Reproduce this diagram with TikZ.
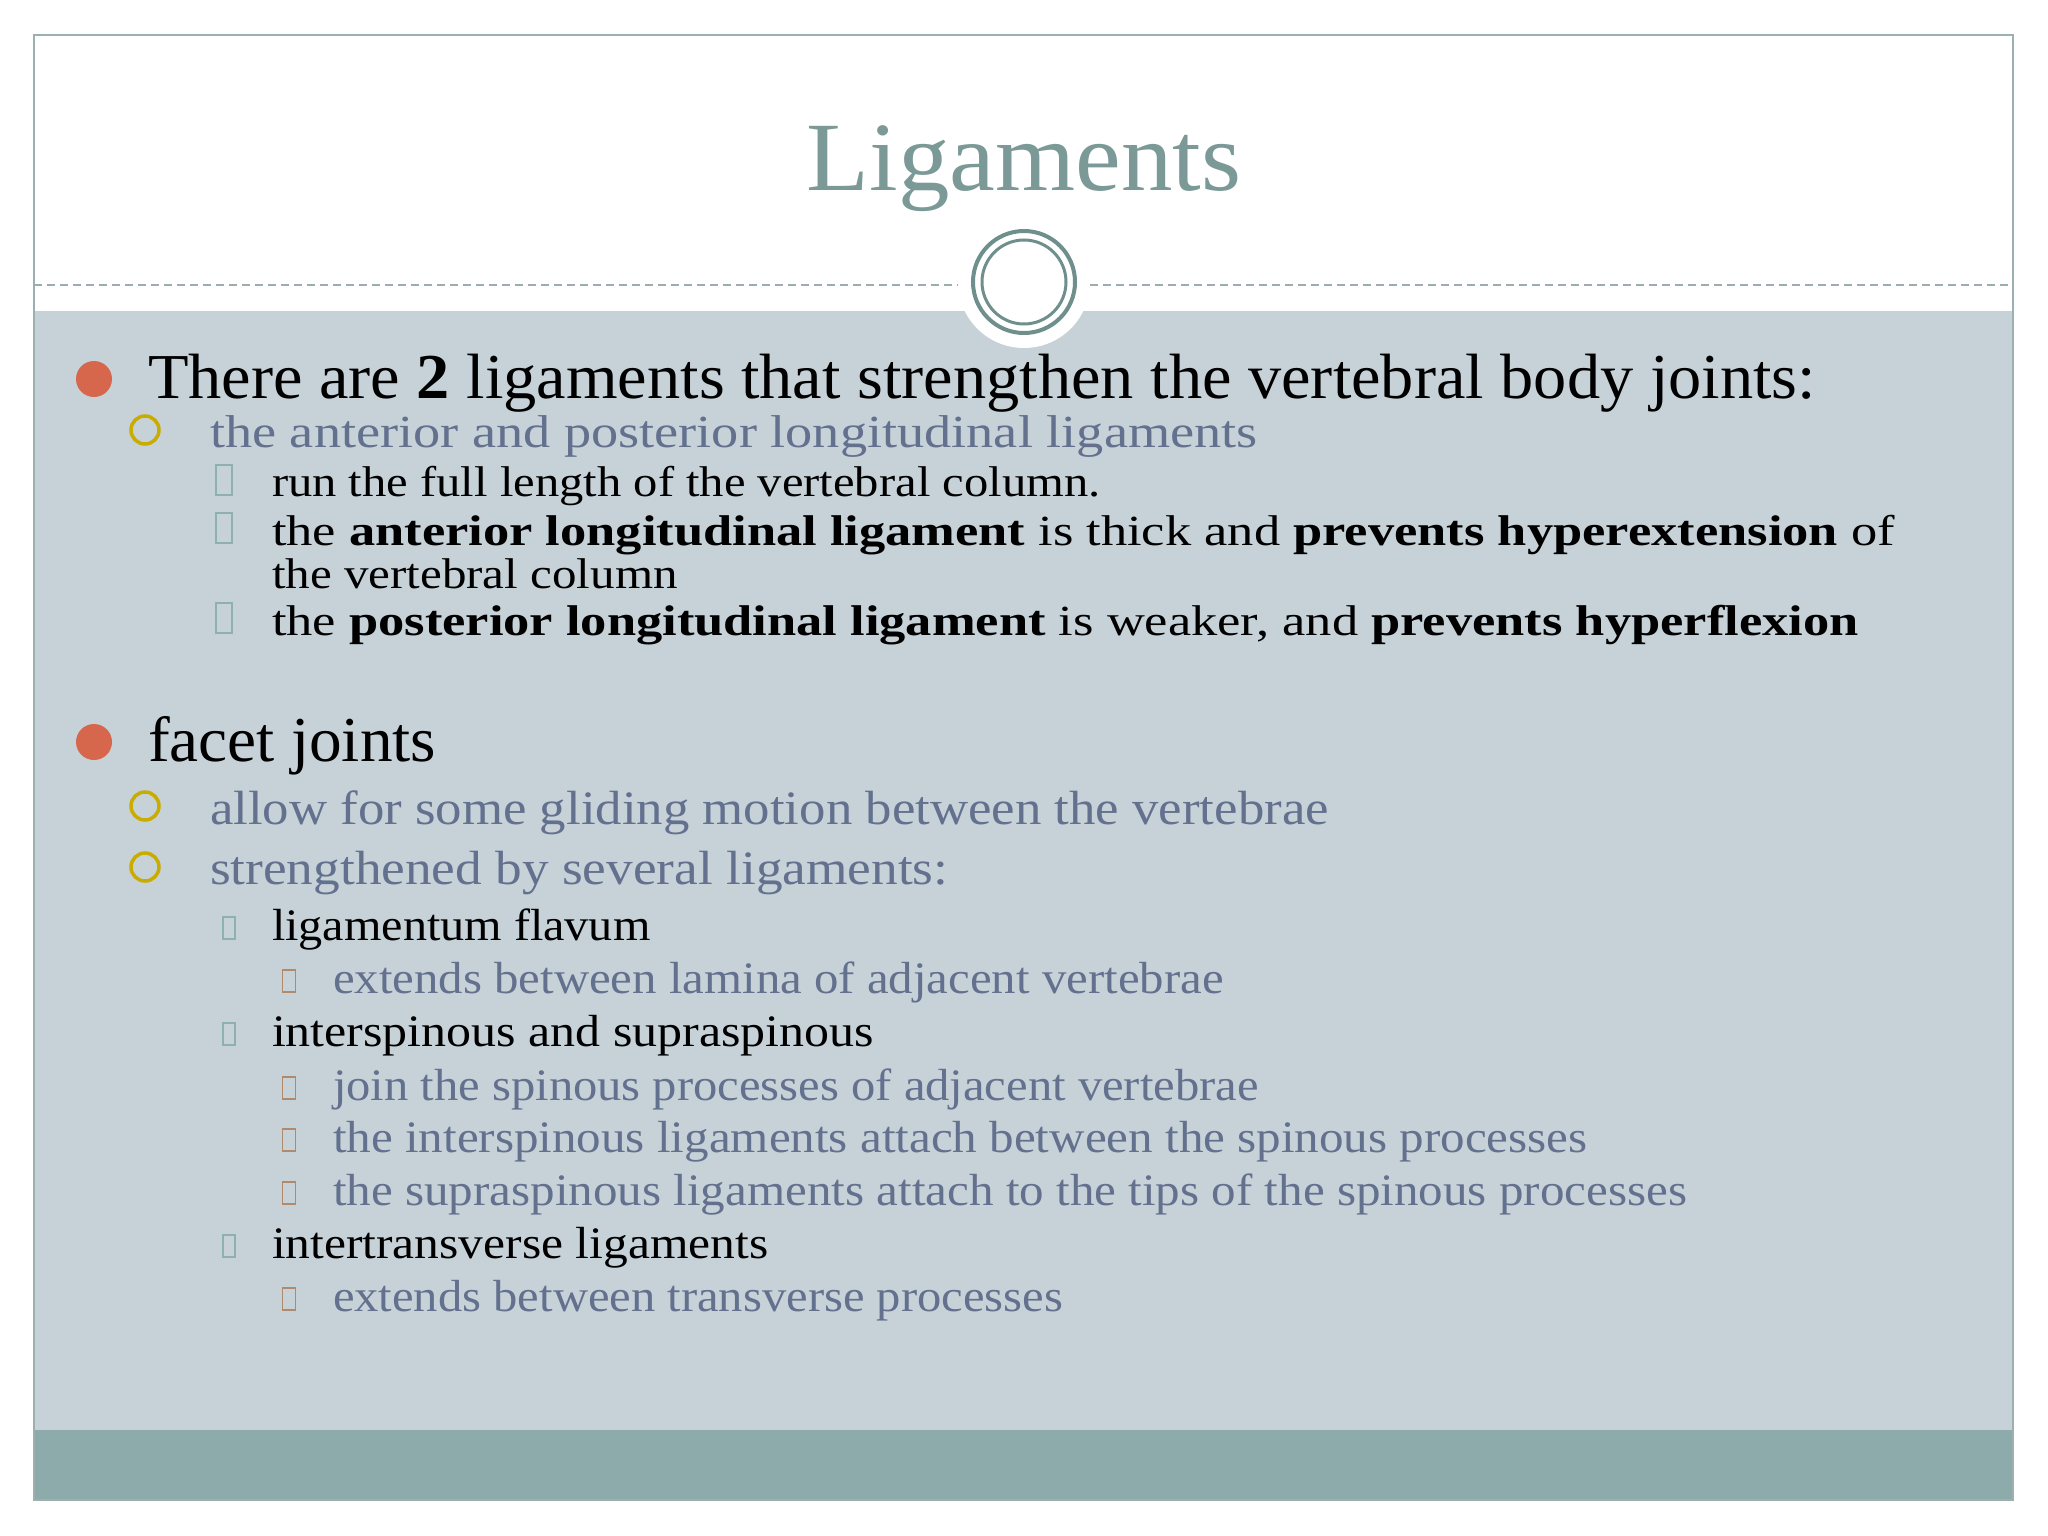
\documentclass[tikz,border=0pt]{standalone}
\usepackage{fontspec}
\setmainfont{Liberation Serif}
\definecolor{bodybg}{HTML}{C6D2D8}
\definecolor{band}{HTML}{8EABAB}
\definecolor{ttl}{HTML}{7B9A97}
\definecolor{ring}{HTML}{6F8F8D}
\definecolor{dashcol}{HTML}{9AAEB0}
\definecolor{dotc}{HTML}{D7674C}
\definecolor{yel}{HTML}{C8AC00}
\definecolor{gb}{HTML}{63708E}
\definecolor{boxa}{HTML}{8FB0B0}
\definecolor{boxb}{HTML}{B08A6A}
\tikzset{
 txt/.style={anchor=base west,inner sep=0pt,outer sep=0pt},
 lA/.style={txt,font=\fontsize{64}{64}\selectfont,text=black},
 lB/.style={txt,font=\fontsize{46}{46}\selectfont,text=gb},
 lC/.style={txt,font=\fontsize{43}{43}\selectfont,text=black},
 lBb/.style={txt,font=\fontsize{48}{48}\selectfont,text=gb},
 lCb/.style={txt,font=\fontsize{45}{45}\selectfont,text=black},
 lDb/.style={txt,font=\fontsize{45}{45}\selectfont,text=gb},
 bdot/.style={circle,fill=dotc,inner sep=0pt,minimum size=36pt},
 bring/.style={circle,draw=yel,line width=3.5pt,inner sep=0pt,minimum size=28pt},
 tofuA/.style={draw=boxa,line width=2pt,inner sep=0pt,minimum width=16pt,minimum height=30pt},
 tofuB/.style={draw=boxb,line width=1.8pt,inner sep=0pt,minimum width=13pt,minimum height=22pt},
}
\newcommand{\sx}[2]{\scalebox{#1}[1]{#2}}
\begin{document}
\begin{tikzpicture}[x=1pt,y=-1pt]
\useasboundingbox (0,0) rectangle (2048,1536);
\fill[white] (0,0) rectangle (2048,1536);
\fill[bodybg] (34,311) rectangle (2013,1430);
\fill[band] (34,1430) rectangle (2013,1500);
\draw[ring!70,line width=1.5pt] (34,35) rectangle (2013,1500);
\draw[dashcol,line width=2pt,dash pattern=on 8pt off 5pt] (34,285) -- (960,285);
\draw[dashcol,line width=2pt,dash pattern=on 8pt off 5pt] (1090,285) -- (2013,285);
\fill[white] (1024,282) circle (66);
\draw[ring,line width=4pt] (1024,282) circle (51);
\draw[ring,line width=3pt] (1024,282) circle (42);
\node[anchor=base,inner sep=0pt,text=ttl,font=\fontsize{98}{98}\selectfont] (title) at (1024,190) {\sx{1.05}{Ligaments}};

\node[bdot] (d1) at (94,379) {};
\node[lA] (t1) at (148,398) {\sx{1.037}{There are \textbf{2} ligaments that strengthen the vertebral body joints:}};
\node[bring] (r1) at (145,430) {};
\node[lB] (t2) at (210,447) {\sx{1.18}{the anterior and posterior longitudinal ligaments}};
\node[tofuA] (b1) at (224,480) {};
\node[lC] (t3) at (272,496) {\sx{1.13}{run the full length of the vertebral column.}};
\node[tofuA] (b2) at (224,528) {};
\node[lC] (t4) at (272,545) {\sx{1.22}{the \textbf{anterior longitudinal ligament} is thick and \textbf{prevents hyperextension} of}};
\node[lC] (t5) at (272,588) {\sx{1.14}{the vertebral column}};
\node[tofuA] (b3) at (224,618) {};
\node[lC] (t6) at (272,635) {\sx{1.22}{the \textbf{posterior longitudinal ligament} is weaker, and \textbf{prevents hyperflexion}}};

\node[bdot] (d2) at (94,742) {};
\node[lA] (t7) at (148,761) {\sx{1.02}{facet joints}};
\node[bring] (r2) at (145,806) {};
\node[lBb] (t8) at (210,824) {\sx{1.10}{allow for some gliding motion between the vertebrae}};
\node[bring] (r3) at (145,867) {};
\node[lBb] (t9) at (210,884) {\sx{1.11}{strengthened by several ligaments:}};
\node[tofuA,minimum width=12pt,minimum height=22pt] (b4) at (229,928) {};
\node[lCb] (t10) at (272,940) {\sx{1.07}{ligamentum flavum}};
\node[tofuB] (b5) at (289,981) {};
\node[lDb] (t11) at (333,993) {\sx{1.085}{extends between lamina of adjacent vertebrae}};
\node[tofuA,minimum width=12pt,minimum height=22pt] (b6) at (229,1034) {};
\node[lCb] (t12) at (272,1046) {\sx{1.11}{interspinous and supraspinous}};
\node[tofuB] (b7) at (289,1088) {};
\node[lDb] (t13) at (333,1100) {\sx{1.08}{join the spinous processes of adjacent vertebrae}};
\node[tofuB] (b8) at (289,1140) {};
\node[lDb] (t14) at (333,1152) {\sx{1.09}{the interspinous ligaments attach between the spinous processes}};
\node[tofuB] (b9) at (289,1193) {};
\node[lDb] (t15) at (333,1205) {\sx{1.09}{the supraspinous ligaments attach to the tips of the spinous processes}};
\node[tofuA,minimum width=12pt,minimum height=22pt] (b10) at (229,1246) {};
\node[lCb] (t16) at (272,1258) {\sx{1.10}{intertransverse ligaments}};
\node[tofuB] (b11) at (289,1299) {};
\node[lDb] (t17) at (333,1311) {\sx{1.08}{extends between transverse processes}};
\end{tikzpicture}
\end{document}
